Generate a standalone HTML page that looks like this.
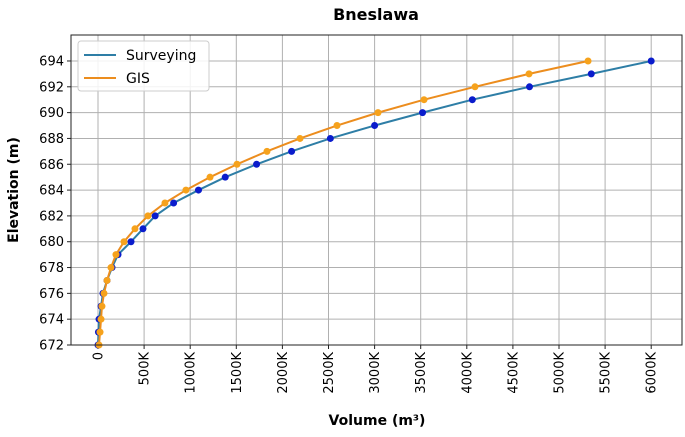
<!DOCTYPE html>
<html><head><meta charset="utf-8"><style>
body{margin:0;background:#fff;font-family:"Liberation Sans","DejaVu Sans",sans-serif}
svg text{font-family:"DejaVu Sans","Liberation Sans",sans-serif}
</style></head><body>
<svg id="c" width="685" height="432" xmlns="http://www.w3.org/2000/svg">
<text x="376" y="20" text-anchor="middle" font-size="16" font-weight="bold">Bneslawa</text>
<text x="377" y="425" text-anchor="middle" font-size="14" font-weight="bold">Volume (m³)</text>
<text transform="translate(18,190) rotate(-90)" text-anchor="middle" font-size="14" font-weight="bold">Elevation (m)</text>
<g id="grid"></g><g id="ticks"></g><g id="series"></g>
<rect x="71" y="35" width="611" height="310" fill="none" stroke="#222" stroke-width="1"/>
<g>
<rect x="78" y="41" width="131" height="50" rx="3" fill="#fff" fill-opacity="0.85" stroke="#ccc"/>
<line x1="84" y1="55" x2="116" y2="55" stroke="#2e7ea6" stroke-width="2"/>
<text x="126" y="60" font-size="14">Surveying</text>
<line x1="84" y1="78" x2="116" y2="78" stroke="#ec8d1e" stroke-width="2"/>
<text x="126" y="83" font-size="14">GIS</text>
</g>
</svg>
<script>
const elevations=[672,673,674,675,676,677,678,679,680,681,682,683,684,685,686,687,688,689,690,691,692,693,694];
const surveyVolumes=[0,5,11,33,54,98,152,217,358,488,620,820,1090,1380,1720,2100,2520,3000,3520,4060,4680,5350,6000];
const gisVolumes=[11,22,33,43,65,98,141,195,282,401,542,726,954,1215,1508,1833,2191,2592,3037,3536,4089,4675,5315];
const xTicks=[0,500,1000,1500,2000,2500,3000,3500,4000,4500,5000,5500,6000];
const yTicks=[672,674,676,678,680,682,684,686,688,690,692,694];
const NS="http://www.w3.org/2000/svg";
const X=v=>98+v*46.1/500, Y=v=>345-(v-672)*25.82/2;
function mk(t,a,p){const e=document.createElementNS(NS,t);for(const k in a)e.setAttribute(k,a[k]);p.appendChild(e);return e;}
const g=document.getElementById('grid'),tk=document.getElementById('ticks'),s=document.getElementById('series');
xTicks.forEach(v=>{const x=X(v);
 const l=mk('line',{x1:x,y1:35,x2:x,y2:345,stroke:'#b0b0b0','stroke-width':1},g);
 
 
 mk('line',{x1:x,y1:345,x2:x,y2:349,stroke:'#222'},tk);
 const t=mk('text',{transform:`translate(${x+4.5},352) rotate(-90)`,'text-anchor':'end','font-size':13},tk);
 t.textContent=v===0?'0':v+'K';
 
 });
yTicks.forEach(v=>{const y=Y(v);
 const l=mk('line',{x1:71,y1:y,x2:682,y2:y,stroke:'#b0b0b0','stroke-width':1},g);
 
 
 mk('line',{x1:67,y1:y,x2:71,y2:y,stroke:'#222'},tk);
 const t=mk('text',{x:64,y:y+4.5,'text-anchor':'end','font-size':13},tk);
 t.textContent=v;
 
 });
function series(vols,line,dot,name){
 const p=mk('polyline',{points:vols.map((v,i)=>X(v)+','+Y(elevations[i])).join(' '),fill:'none',stroke:line,'stroke-width':2},s);
 
 
 vols.forEach((v,i)=>{const c=mk('circle',{cx:X(v),cy:Y(elevations[i]),r:3.5,fill:dot},s);
  
  });
}
series(surveyVolumes,'#2e7ea6','#0a1ccc','surveying');
series(gisVolumes,'#ec8d1e','#f6a21c','gis');
</script>
</body></html>
